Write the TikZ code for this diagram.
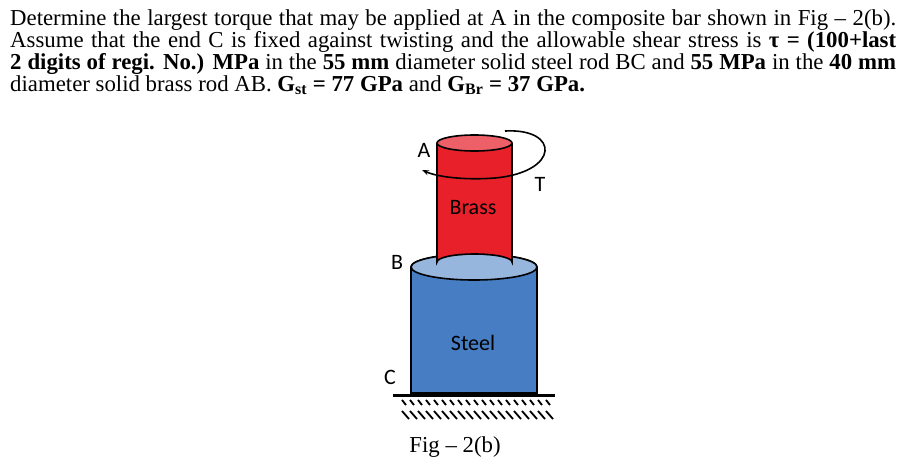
\documentclass[tikz,border=0pt]{standalone}
\usepackage{fontspec}
\setmainfont{Liberation Serif}
\newfontfamily\lbl{Carlito}
\usetikzlibrary{arrows.meta}
\definecolor{brass}{RGB}{232,32,42}
\definecolor{brasstop}{RGB}{238,96,104}
\definecolor{steel}{RGB}{70,125,195}
\definecolor{steeltop}{RGB}{150,182,222}
\tikzset{txt/.style={anchor=base west,inner sep=0pt,font=\fontsize{22.8}{22}\selectfont},
 lab/.style={inner sep=0pt,font=\lbl\fontsize{22}{24}\selectfont},
 outl/.style={draw=black,line width=1.6pt},
 hatch/.style={line width=1.8pt}}
\begin{document}
\begin{tikzpicture}[x=1pt,y=-1pt]
\useasboundingbox (0,0) rectangle (899,474);
\node[txt] (l1) at (10,25) {\makebox[886pt][s]{Determine the largest torque that may be applied at A in the composite bar shown in Fig -- 2(b).}};
\node[txt] (l2) at (10,47) {\makebox[886pt][s]{Assume that the end C is fixed against twisting and the allowable shear stress is \textbf{τ = (100+last}}};
\node[txt] (l3) at (10,69) {\makebox[886pt][s]{\textbf{2 digits of regi. No.) MPa} in the \textbf{55 mm} diameter solid steel rod BC and \textbf{55 MPa} in the \textbf{40 mm}}};
\node[txt] (l4) at (10,91) {diameter solid brass rod AB. \textbf{G\textsubscript{st} = 77 GPa} and \textbf{G\textsubscript{Br} = 37 GPa.}};
% steel
\fill[steel,outl] (411,267) -- (411,393) -- (537,393) -- (537,267) arc[start angle=0,end angle=-180,x radius=63,y radius=13];
\draw[outl,fill=steeltop] (474,267) ellipse[x radius=63,y radius=13];
% brass
\draw[outl,fill=brass] (437,143) -- (437,262) arc[start angle=180,end angle=360,x radius=37.5,y radius=8] -- (512,143);
\draw[outl,fill=brasstop] (474.5,143) ellipse[x radius=37.5,y radius=8];
% torque loop
\draw[line width=1.6pt,-{Stealth[length=7pt]}] (505,131) .. controls (560,128) and (560,172) .. (495,178) .. controls (470,180) and (440,178) .. (422,170);
% ground
\draw[line width=3pt] (393,395) -- (555,395);
\foreach \x in {402,410,...,546} {
  \draw[hatch] (\x,400) -- (\x+4,405);
  \draw[hatch] (\x,411) -- (\x+7,419);
}
\node[lab] (A) at (424,150) {A};
\node[lab] (T) at (540,184) {T};
\node[lab] (br) at (473,208) {Brass};
\node[lab] (B) at (397,262) {B};
\node[lab] (st) at (473,343) {Steel};
\node[lab] (C) at (390,377) {C};
\node[inner sep=0pt,font=\fontsize{22.8}{22}\selectfont] (cap) at (455,447) {Fig -- 2(b)};
\end{tikzpicture}
\end{document}
